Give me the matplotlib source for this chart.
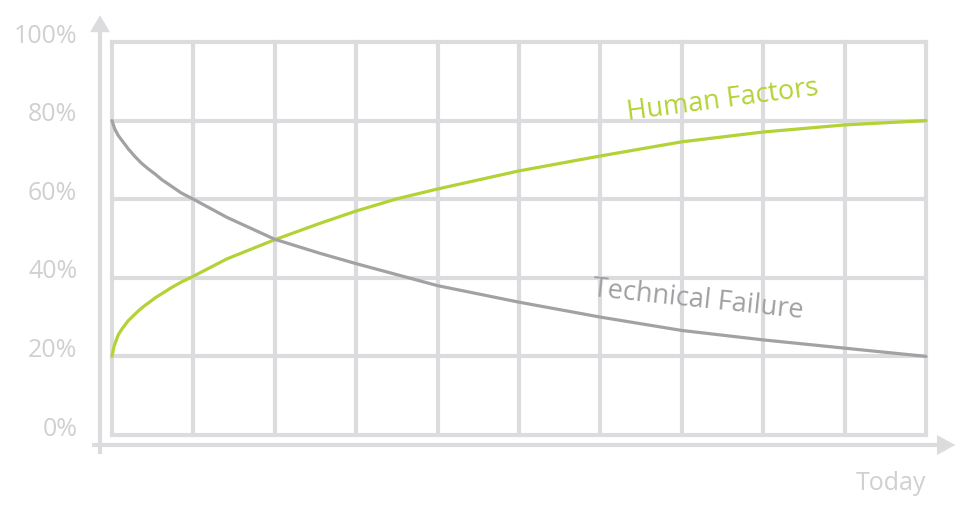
import matplotlib
matplotlib.use("Agg")
import matplotlib.pyplot as plt

# Données (x = colonnes de la grille, 0..10 ; y en %)
x_humain = [0, 0.025, 0.05, 0.077, 0.12, 0.16, 0.2, 0.26, 0.32, 0.4, 0.48, 0.53, 0.6, 0.73, 0.85,
            1.0, 1.41, 2.0, 2.56, 3.0, 3.5, 4.0, 5.0, 6.0, 7.0, 8.0, 9.0, 10.0]
y_humain = [20, 22.6, 24.0, 25.5, 26.9, 28.0, 29.1, 30.3, 31.5, 32.9, 34.1, 34.9, 35.8, 37.5, 38.9,
            40.4, 44.8, 49.7, 53.9, 57.0, 60.1, 62.6, 67.2, 71.0, 74.6, 77.1, 78.9, 80]

x_technique = [0, 0.033, 0.077, 0.135, 0.2, 0.28, 0.36, 0.44, 0.53, 0.61, 0.73, 0.85,
               1.0, 1.41, 2.0, 2.56, 3.0, 4.0, 5.0, 6.0, 7.0, 8.0, 9.0, 10.0]
y_technique = [80, 77.9, 76.2, 74.6, 72.8, 70.9, 69.2, 67.8, 66.4, 65.0, 63.3, 61.6,
               60.0, 55.4, 49.8, 46.2, 43.6, 38.0, 33.8, 30.0, 26.6, 24.2, 22.1, 20]

graduations_y = [0, 20, 40, 60, 80, 100]
etiquettes_y = ["0%", "20%", "40%", "60%", "80%", "100%"]

vert = "#b3d235"
gris = "#a2a2a5"
gris_grille = "#dcdcdf"
gris_texte = "#d0d0d3"

plt.rcParams["font.family"] = ["Open Sans", "DejaVu Sans"]

fig = plt.figure(figsize=(9.8, 5.06), dpi=100)
ax = fig.add_axes([112 / 980, 70 / 506, 814 / 980, 393 / 506])
ax.set_xlim(0, 10)
ax.set_ylim(0, 100)

# Grille
ax.set_xticks(range(11))
ax.set_yticks(graduations_y)
ax.grid(True, color=gris_grille, linewidth=3)
ax.set_axisbelow(True)
for ligne in ax.get_xgridlines() + ax.get_ygridlines():
    ligne.set_clip_on(False)
for s in ax.spines.values():
    s.set_visible(False)
ax.tick_params(length=0, labelbottom=False, labelleft=False)

# Axes avec flèches
ax.plot([-0.147, -0.147], [-4.8, 103], color=gris_grille, lw=3, clip_on=False, solid_capstyle="butt")
ax.fill([-0.27, -0.024, -0.147], [102.5, 102.5, 106.8], color=gris_grille, clip_on=False, lw=0)
ax.plot([-0.246, 10.14], [-2.54, -2.54], color=gris_grille, lw=3, clip_on=False, solid_capstyle="butt")
ax.fill([10.135, 10.135, 10.36], [0.0, -5.1, -2.54], color=gris_grille, clip_on=False, lw=0)

# Courbes
ax.plot(x_humain, y_humain, color=vert, lw=2.3, clip_on=False,
        solid_capstyle="round", solid_joinstyle="round")
ax.plot(x_technique, y_technique, color=gris, lw=2.3, clip_on=False,
        solid_capstyle="round", solid_joinstyle="round")

# Etiquettes de l'axe Y
for v, lbl in zip(graduations_y, etiquettes_y):
    ax.annotate(lbl, xy=(0, v), xycoords=("axes fraction", "data"),
                xytext=(-25, 5), textcoords="offset points",
                ha="right", va="center", fontsize=18, color=gris_texte)

ax.text(1.0, -12, "Today", transform=ax.get_yaxis_transform(), ha="right", va="center",
        fontsize=18, color=gris_texte, clip_on=False)

# Noms des courbes
ax.text(7.5, 85.4, "Human Factors", color=vert, fontsize=19.5, rotation=7.5,
        ha="center", va="center", rotation_mode="anchor")
ax.text(7.2, 34.5, "Technical Failure", color="#a0a0a3", fontsize=19.5, rotation=-6,
        ha="center", va="center", rotation_mode="anchor")

fig.savefig("out.png", dpi=100)
